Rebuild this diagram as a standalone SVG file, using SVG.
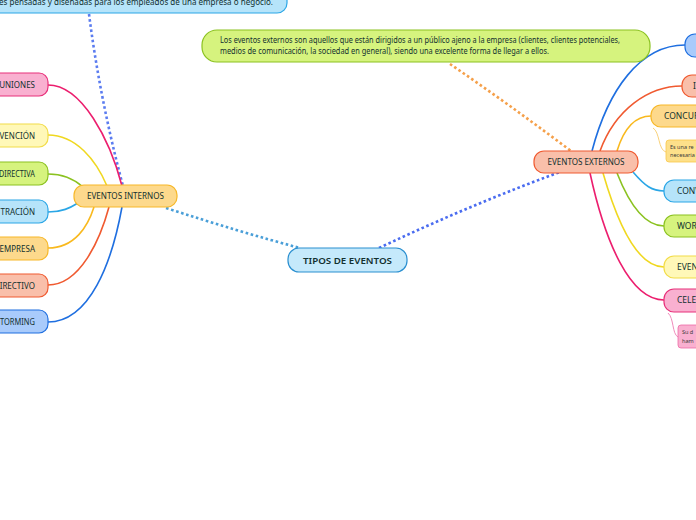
<svg xmlns="http://www.w3.org/2000/svg" width="696" height="520" viewBox="0 0 696 520">
<style>
.t{font-family:"Noto Sans","Open Sans","DejaVu Sans",sans-serif;font-size:8.5px;fill:#12302f}
.l{font-size:8px}
.s{font-family:"Noto Sans","Open Sans","DejaVu Sans",sans-serif;font-size:5.5px;fill:#3a3a3a}
.c{fill:none;stroke-width:1.6}
.n{stroke-width:1.2}
.pink{fill:#f9b0d0;stroke:#e8307a}
.ylw{fill:#fff8b8;stroke:#f2dc48}
.grn{fill:#d6f37e;stroke:#8bc220}
.lbl{fill:#b6e4fa;stroke:#2aa6e6}
.org{fill:#fdd98c;stroke:#f7b829}
.sal{fill:#f9bfaa;stroke:#f05a30}
.blu{fill:#a9cbfb;stroke:#1f6fe0}
.dot{fill:none;stroke-width:2.6;stroke-dasharray:2.6 2.6}
</style>
<rect width="696" height="520" fill="#ffffff"/>
<g id="connectors">
  <path class="dot" stroke="#5b7cf0" d="M89,14 Q100,100 123,186"/>
  <path class="dot" stroke="#4a9fd8" d="M166,208 Q240,232 300,248"/>
  <path class="dot" stroke="#4a6cf0" d="M379,248 Q470,205 560,172"/>
  <path class="dot" stroke="#f5a04a" stroke-width="3.6" stroke-dasharray="3.4 3.8" d="M450,64 Q510,105 571,151"/>
  <path class="c" stroke="#ec1e6e" d="M48,85 C82,85 110,140 122,186"/>
  <path class="c" stroke="#f0d820" d="M48,135 C76,135 96,160 107,186"/>
  <path class="c" stroke="#8bc220" d="M48,174 C64,174 74,179 83,187"/>
  <path class="c" stroke="#2aa6e6" d="M48,212 C62,212 70,208 78,203"/>
  <path class="c" stroke="#f9b91e" d="M48,248 C75,248 88,226 94,207"/>
  <path class="c" stroke="#f05a30" d="M48,285 C80,285 100,240 109,207"/>
  <path class="c" stroke="#1f6fe0" d="M48,322 C90,322 112,262 122,207"/>
  <path class="c" stroke="#1f6fe0" d="M592,151 C608,90 640,45 685,45"/>
  <path class="c" stroke="#f05a30" d="M600,151 C615,110 648,86 682,86"/>
  <path class="c" stroke="#f9b91e" d="M617,151 C624,128 636,116 651,116"/>
  <path class="c" stroke="#2aa6e6" d="M633,172 C645,186 652,191 664,191"/>
  <path class="c" stroke="#8bc220" d="M617,173 C630,206 645,226 664,226"/>
  <path class="c" stroke="#f0d820" d="M603,173 C620,232 640,267 664,267"/>
  <path class="c" stroke="#ec1e6e" d="M590,173 C605,242 630,300 664,300"/>
  <path fill="none" stroke="#f9d27a" stroke-width="1" d="M653,128 C660,132 658,150 666,152"/>
  <path fill="none" stroke="#f08cbc" stroke-width="1" d="M668,313 C674,318 672,334 678,337"/>
</g>
<g id="callout-internos">
  <rect class="n lbl" x="-20" y="-20" width="307" height="33" rx="10"/>
  <text class="t" x="-1" y="5" textLength="274" lengthAdjust="spacingAndGlyphs">es pensadas y diseñadas para los empleados de una empresa o negocio.</text>
</g>
<g id="callout-externos">
  <rect class="n grn" x="202" y="30" width="448" height="32" rx="15"/>
  <text class="t" font-size="7.5" x="220" y="43" textLength="400" lengthAdjust="spacingAndGlyphs">Los eventos externos son aquellos que están dirigidos a un público ajeno a la empresa (clientes, clientes potenciales,</text>
  <text class="t" font-size="7.5" x="220" y="54" textLength="329" lengthAdjust="spacingAndGlyphs">medios de comunicación, la sociedad en general), siendo una excelente forma de llegar a ellos.</text>
</g>
<g id="reuniones"><rect class="n pink" x="-20" y="73" width="68" height="23" rx="9"/><text class="t l" x="35" y="88" text-anchor="end">UNIONES</text></g>
<g id="convencion"><rect class="n ylw" x="-20" y="124" width="68" height="23" rx="9"/><text class="t l" x="35" y="139" text-anchor="end">VENCIÓN</text></g>
<g id="directiva"><rect class="n grn" x="-20" y="162" width="68" height="23" rx="9"/><text class="t l" x="35" y="177" text-anchor="end" textLength="36" lengthAdjust="spacingAndGlyphs">DIRECTIVA</text></g>
<g id="administracion"><rect class="n lbl" x="-20" y="200" width="68" height="23" rx="9"/><text class="t l" x="35" y="215" text-anchor="end">TRACIÓN</text></g>
<g id="empresa"><rect class="n org" x="-20" y="237" width="68" height="23" rx="9"/><text class="t l" x="35" y="252" text-anchor="end">EMPRESA</text></g>
<g id="directivo"><rect class="n sal" x="-20" y="274" width="68" height="23" rx="9"/><text class="t l" x="35" y="289" text-anchor="end">IRECTIVO</text></g>
<g id="brainstorming"><rect class="n blu" x="-20" y="310" width="68" height="23" rx="9"/><text class="t l" x="35" y="325" text-anchor="end" textLength="35" lengthAdjust="spacingAndGlyphs">TORMING</text></g>
<g id="eventos-internos"><rect class="n org" x="74" y="185" width="103" height="22" rx="10"/><text class="t" x="125.5" y="199" text-anchor="middle" textLength="77" lengthAdjust="spacingAndGlyphs">EVENTOS INTERNOS</text></g>
<g id="tipos-de-eventos"><rect class="n" fill="#c5e9fb" stroke="#2a8fd0" x="288" y="248" width="119" height="24" rx="11"/><text class="t" font-size="9.5" font-weight="600" fill="#1a2a4a" x="347.5" y="263.5" text-anchor="middle" textLength="89" lengthAdjust="spacingAndGlyphs">TIPOS DE EVENTOS</text></g>
<g id="eventos-externos"><rect class="n sal" x="534" y="151" width="104" height="22" rx="10"/><text class="t" x="586" y="165" text-anchor="middle" textLength="77" lengthAdjust="spacingAndGlyphs">EVENTOS EXTERNOS</text></g>
<g id="ext-blue"><rect class="n blu" x="685" y="34" width="60" height="23" rx="10"/></g>
<g id="ext-salmon"><rect class="n sal" x="682" y="75" width="60" height="22" rx="10"/><text class="t" x="693" y="89">I</text></g>
<g id="concurso"><rect class="n org" x="651" y="105" width="70" height="22" rx="10"/><text class="t" x="664" y="119">CONCUR</text></g>
<g id="concurso-note"><rect fill="#fde08a" stroke="#f9c84a" stroke-width="0.8" x="666" y="140" width="50" height="22" rx="3"/><text class="s" x="670" y="149">Es una re</text><text class="s" x="670" y="157">necesaria</text></g>
<g id="conv"><rect class="n lbl" x="664" y="180" width="60" height="22" rx="10"/><text class="t" x="677" y="194">CONV</text></g>
<g id="workshop"><rect class="n grn" x="664" y="215" width="60" height="22" rx="10"/><text class="t" x="677" y="229">WOR</text></g>
<g id="even"><rect class="n ylw" x="664" y="256" width="60" height="22" rx="10"/><text class="t" x="677" y="270">EVEN</text></g>
<g id="celebraciones"><rect class="n pink" x="664" y="289" width="60" height="23" rx="10"/><text class="t" x="677" y="303">CELE</text></g>
<g id="cele-note"><rect fill="#f9b0d0" stroke="#ee6aa6" stroke-width="0.8" x="678" y="325" width="40" height="23" rx="3"/><text class="s" x="682" y="334">Su d</text><text class="s" x="682" y="343">ham</text></g>
</svg>
